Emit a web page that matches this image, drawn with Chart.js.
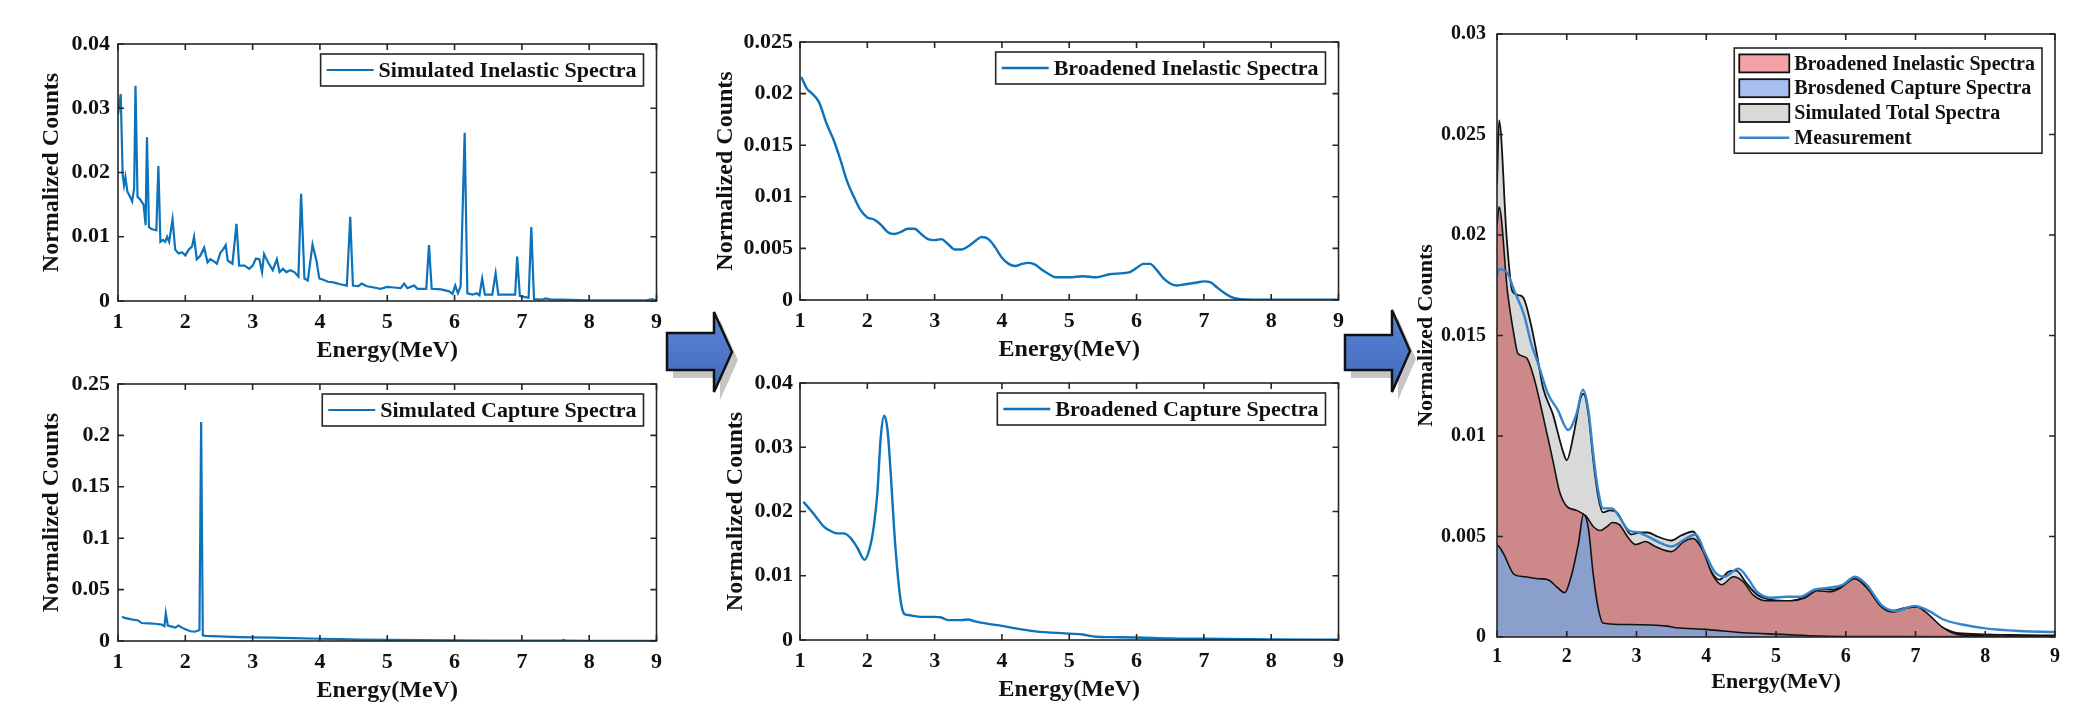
<!DOCTYPE html>
<html>
<head>
<meta charset="utf-8">
<script src="https://cdn.jsdelivr.net/npm/chart.js@4.4.1/dist/chart.umd.min.js"></script>
<style>
  html, body { margin: 0; padding: 0; background: #fff; }
  body { width: 2093px; height: 708px; position: relative; overflow: hidden; }
  canvas { position: absolute; }
  #arrows { position: absolute; left: 0; top: 0; pointer-events: none; }
</style>
</head>
<body>
<svg id="arrows" width="2093" height="708">
  <defs>
    <linearGradient id="arrowFill" x1="0" y1="0" x2="0" y2="1">
      <stop offset="0" stop-color="#5b87d8"/>
      <stop offset="1" stop-color="#3f68ba"/>
    </linearGradient>
  </defs>
  <polygon points="673,341 720,341 720,320 738,360 720,400 720,378 673,378" fill="#c6c6c6"/>
  <polygon points="667,333 714,333 714,312 732,352 714,392 714,370 667,370" fill="url(#arrowFill)" stroke="#111" stroke-width="2.5"/>
  <polygon points="1351,343 1398,343 1398,318 1416,359 1398,400 1398,378 1351,378" fill="#c6c6c6"/>
  <polygon points="1345,335 1392,335 1392,310 1410,351 1392,392 1392,370 1345,370" fill="url(#arrowFill)" stroke="#111" stroke-width="2.5"/>
</svg>
<script>
// energy axis, shared by every panel
const energyTicks = [1, 2, 3, 4, 5, 6, 7, 8, 9];

// simulated inelastic spectrum (top left)
const inelE = [1.00, 1.04, 1.07, 1.09, 1.11, 1.14, 1.18, 1.21, 1.24, 1.26, 1.29, 1.33, 1.38, 1.41, 1.43, 1.46, 1.50, 1.57, 1.60, 1.63,
  1.67, 1.70, 1.73, 1.76, 1.81, 1.85, 1.90, 1.95, 2.00, 2.05, 2.10, 2.13, 2.17, 2.22, 2.28, 2.33, 2.37, 2.42, 2.47, 2.52,
  2.56, 2.60, 2.63, 2.70, 2.76, 2.80, 2.88, 2.95, 3.00, 3.05, 3.10, 3.14, 3.17, 3.23, 3.30, 3.36, 3.40, 3.45, 3.50, 3.56,
  3.62, 3.68, 3.72, 3.77, 3.82, 3.89, 3.95, 3.99, 4.05, 4.12, 4.20, 4.30, 4.40, 4.45, 4.49, 4.57, 4.62, 4.70, 4.80, 4.90,
  5.00, 5.10, 5.20, 5.25, 5.30, 5.40, 5.45, 5.58, 5.62, 5.66, 5.80, 5.92, 5.97, 6.01, 6.05, 6.09, 6.15, 6.19, 6.27, 6.33,
  6.37, 6.41, 6.45, 6.56, 6.61, 6.65, 6.80, 6.90, 6.93, 6.97, 7.05, 7.10, 7.14, 7.18, 7.30, 7.35, 7.45, 7.60, 8.00, 8.50,
  8.85, 8.93, 9.00];
const inelCounts = [0.0290, 0.0322, 0.0195, 0.0180, 0.0193, 0.0170, 0.0162, 0.0155, 0.0175, 0.0335, 0.0162, 0.0158, 0.0150, 0.0118, 0.0255, 0.0115, 0.0112, 0.0110, 0.0210, 0.0092,
  0.0095, 0.0092, 0.0100, 0.0092, 0.0127, 0.0080, 0.0074, 0.0076, 0.0071, 0.0080, 0.0085, 0.0100, 0.0065, 0.0070, 0.0083, 0.0060, 0.0065, 0.0062, 0.0058, 0.0075,
  0.0080, 0.0087, 0.0063, 0.0058, 0.0120, 0.0055, 0.0055, 0.0050, 0.0055, 0.0066, 0.0065, 0.0045, 0.0073, 0.0060, 0.0048, 0.0065, 0.0045, 0.0050, 0.0045, 0.0048,
  0.0045, 0.0038, 0.0167, 0.0035, 0.0032, 0.0088, 0.0062, 0.0035, 0.0033, 0.0030, 0.0029, 0.0026, 0.0024, 0.0131, 0.0024, 0.0023, 0.0027, 0.0023, 0.0021, 0.0019,
  0.0022, 0.0021, 0.0020, 0.0027, 0.0020, 0.0024, 0.0019, 0.0019, 0.0087, 0.0019, 0.0018, 0.0015, 0.0011, 0.0024, 0.0012, 0.0023, 0.0262, 0.0012, 0.0010, 0.0012,
  0.0009, 0.0035, 0.0010, 0.0010, 0.0043, 0.0010, 0.0010, 0.0010, 0.0069, 0.0008, 0.0006, 0.0005, 0.0115, 0.0003, 0.0002, 0.0004, 0.0002, 0.0002, 0.0001, 0.0001,
  0.0001, 0.0003, 0.0001];
const inelTicks = [0, 0.01, 0.02, 0.03, 0.04];

// simulated capture spectrum (bottom left)
const capE = [1.06, 1.10, 1.20, 1.30, 1.35, 1.45, 1.55, 1.65, 1.69, 1.71, 1.74, 1.80, 1.85, 1.90, 1.95, 2.00, 2.08, 2.14, 2.18, 2.21,
  2.235, 2.26, 2.30, 2.50, 2.80, 3.00, 3.30, 3.60, 4.00, 4.30, 4.60, 5.00, 5.50, 6.00, 6.50, 7.00, 7.58, 7.62, 7.66, 8.00, 9.00];
const capCounts = [0.0235, 0.0225, 0.0210, 0.0200, 0.0175, 0.0172, 0.0168, 0.0160, 0.0145, 0.0270, 0.0150, 0.0140, 0.0130, 0.0150, 0.0130, 0.0115, 0.0095, 0.0090, 0.0100, 0.0105,
  0.2130, 0.0055, 0.0050, 0.0045, 0.0038, 0.0035, 0.0032, 0.0028, 0.0022, 0.0018, 0.0013, 0.0010, 0.0008, 0.0006, 0.0005, 0.0004, 0.0003, 0.0010, 0.0003, 0.0002, 0.0002];
const capTicks = [0, 0.05, 0.1, 0.15, 0.2, 0.25];

// broadened inelastic spectrum (top middle)
const bInelE = [1.02, 1.10, 1.18, 1.28, 1.40, 1.50, 1.60, 1.70, 1.80, 1.90, 2.00, 2.10, 2.20, 2.30, 2.40, 2.50, 2.60, 2.70, 2.80, 2.90,
  3.00, 3.10, 3.20, 3.30, 3.40, 3.50, 3.60, 3.70, 3.80, 3.90, 4.00, 4.10, 4.20, 4.30, 4.40, 4.50, 4.60, 4.70, 4.80, 5.00,
  5.20, 5.40, 5.60, 5.80, 5.90, 6.00, 6.10, 6.20, 6.30, 6.40, 6.50, 6.60, 6.70, 6.80, 6.90, 7.00, 7.10, 7.20, 7.30, 7.40,
  7.50, 7.60, 8.00, 9.00];
const bInelCounts = [0.0216, 0.0205, 0.0200, 0.0192, 0.0170, 0.0155, 0.0136, 0.0115, 0.0100, 0.0087, 0.0080, 0.0078, 0.0073, 0.0066, 0.0064, 0.0066, 0.0069, 0.0069, 0.0064, 0.0059,
  0.0058, 0.0059, 0.0054, 0.0049, 0.0049, 0.0052, 0.0057, 0.0061, 0.0059, 0.0051, 0.0041, 0.0035, 0.0033, 0.0035, 0.0036, 0.0034, 0.0029, 0.0025, 0.0022, 0.0022,
  0.0023, 0.0022, 0.0025, 0.0026, 0.0027, 0.0031, 0.0035, 0.0035, 0.0029, 0.0021, 0.0016, 0.0014, 0.0015, 0.0016, 0.0017, 0.0018, 0.0017, 0.0012, 0.0007, 0.0003,
  0.00012, 0.00006, 0.00003, 0.00002];
const bInelTicks = [0, 0.005, 0.01, 0.015, 0.02, 0.025];

// broadened capture spectrum (bottom middle)
const bCapE = [1.05, 1.15, 1.25, 1.35, 1.45, 1.55, 1.65, 1.75, 1.85, 1.96, 2.05, 2.10, 2.15, 2.20, 2.25, 2.30, 2.35, 2.40, 2.45, 2.50,
  2.55, 2.60, 2.80, 3.00, 3.10, 3.20, 3.40, 3.50, 3.60, 3.80, 4.00, 4.20, 4.50, 5.00, 5.20, 5.40, 5.60, 6.00, 6.50, 7.00,
  8.00, 9.00];
const bCapCounts = [0.0215, 0.0203, 0.0190, 0.0177, 0.0170, 0.0166, 0.0166, 0.0159, 0.0144, 0.0125, 0.0149, 0.0180, 0.0230, 0.0316, 0.0349, 0.0327, 0.0256, 0.0170, 0.0104, 0.0058,
  0.00405, 0.0039, 0.0036, 0.0036, 0.0035, 0.0031, 0.0031, 0.0032, 0.0029, 0.0025, 0.0022, 0.0018, 0.00135, 0.0010, 0.00085, 0.0005, 0.00045, 0.0004, 0.00025, 0.0002,
  0.0001, 0.00005];
const bCapTicks = [0, 0.01, 0.02, 0.03, 0.04];

// comparison with the measurement (right)
const totalE = [1.00, 1.03, 1.14, 1.22, 1.32, 1.39, 1.49, 1.56, 1.66, 1.80, 1.94, 2.00, 2.10, 2.20, 2.24, 2.31, 2.38, 2.45, 2.52, 2.62,
  2.72, 2.82, 2.92, 3.06, 3.16, 3.30, 3.50, 3.64, 3.81, 3.91, 4.05, 4.19, 4.32, 4.43, 4.56, 4.73, 4.94, 5.21, 5.38, 5.55,
  5.69, 5.83, 5.96, 6.13, 6.24, 6.44, 6.65, 6.85, 6.99, 7.12, 7.33, 7.53, 7.81, 8.35, 9.00];
const totalCounts = [0.0225, 0.0257, 0.0198, 0.0172, 0.0170, 0.0168, 0.0155, 0.0143, 0.0124, 0.0111, 0.0093, 0.0088, 0.0101, 0.0119, 0.0121, 0.0111, 0.0088, 0.0070, 0.0062, 0.0063,
  0.0062, 0.0056, 0.0051, 0.0052, 0.0052, 0.0050, 0.0048, 0.00505, 0.00525, 0.0047, 0.0034, 0.00285, 0.00325, 0.0033, 0.00275, 0.0021, 0.00185, 0.0018, 0.00195, 0.0023,
  0.0024, 0.00235, 0.0026, 0.0029, 0.0027, 0.0018, 0.0013, 0.00145, 0.0015, 0.0013, 0.0006, 0.00025, 0.00015, 0.0001, 0.00008];

const fitInelE = [1.00, 1.03, 1.15, 1.25, 1.30, 1.42, 1.53, 1.66, 1.80, 1.90, 2.00, 2.14, 2.28, 2.38, 2.48, 2.58, 2.65, 2.75, 2.89, 2.99,
  3.13, 3.27, 3.50, 3.68, 3.81, 3.95, 4.09, 4.22, 4.39, 4.53, 4.67, 4.87, 5.21, 5.42, 5.59, 5.79, 5.93, 6.13, 6.30, 6.51,
  6.68, 6.88, 7.02, 7.16, 7.40, 7.60, 8.00, 9.00];
const fitInelCounts = [0.0205, 0.0214, 0.0172, 0.0149, 0.0141, 0.0139, 0.0129, 0.0110, 0.0088, 0.0072, 0.0065, 0.0063, 0.0060, 0.0055, 0.0053, 0.0055, 0.0057, 0.0056, 0.0049, 0.0046,
  0.00475, 0.0045, 0.00425, 0.00475, 0.0049, 0.0043, 0.0031, 0.0026, 0.0030, 0.00275, 0.0021, 0.0018, 0.0018, 0.00195, 0.0023, 0.00225, 0.00245, 0.0029, 0.00245, 0.0015,
  0.00125, 0.00145, 0.0015, 0.0012, 0.00045, 0.00013, 0.00005, 0.00002];

const fitCapE = [1.00, 1.05, 1.10, 1.25, 1.39, 1.60, 1.73, 1.87, 1.97, 2.07, 2.17, 2.24, 2.31, 2.38, 2.45, 2.52, 2.89, 3.44, 3.57, 3.98,
  4.53, 5.08, 5.62, 6.50, 9.00];
const fitCapCounts = [0.0046, 0.0044, 0.0041, 0.0031, 0.0030, 0.0029, 0.00285, 0.00245, 0.0022, 0.0031, 0.0047, 0.0061, 0.0054, 0.0031, 0.00145, 0.0007, 0.00062, 0.00054, 0.00046, 0.00038,
  0.00021, 0.00013, 0.00005, 0.00002, 0.00001];

const measE = [1.00, 1.03, 1.15, 1.25, 1.39, 1.49, 1.59, 1.73, 1.87, 2.02, 2.14, 2.23, 2.31, 2.38, 2.45, 2.52, 2.65, 2.75, 2.89, 3.03,
  3.16, 3.33, 3.50, 3.71, 3.85, 3.98, 4.12, 4.26, 4.46, 4.60, 4.73, 4.94, 5.14, 5.35, 5.55, 5.76, 5.96, 6.13, 6.30, 6.51,
  6.71, 6.99, 7.19, 7.40, 7.67, 8.00, 8.49, 9.00];
const measCounts = [0.0180, 0.0183, 0.0181, 0.0172, 0.0160, 0.0146, 0.0136, 0.0121, 0.0113, 0.0103, 0.0111, 0.0123, 0.0113, 0.0091, 0.0073, 0.0064, 0.0064, 0.0060, 0.0053, 0.0052,
  0.0050, 0.0047, 0.0045, 0.0049, 0.0051, 0.0042, 0.00325, 0.0030, 0.0034, 0.0029, 0.00225, 0.00195, 0.0020, 0.0020, 0.00235, 0.00245, 0.0026, 0.0030, 0.0026, 0.0016,
  0.0013, 0.00155, 0.0013, 0.00087, 0.00062, 0.00043, 0.0003, 0.00025];
const fitTicks = [0, 0.005, 0.01, 0.015, 0.02, 0.025, 0.03];

const FONT = '"Liberation Serif", "Times New Roman", serif';
const INK = '#262626';
const MATLAB_BLUE = '#0b72bb';

Chart.defaults.font.family = FONT;
Chart.defaults.color = '#111';

const points = (xs, ys) => xs.map((x, i) => ({x: x, y: ys[i]}));

// MATLAB style frame: box on all four sides, ticks pointing inwards
const matlabBox = {
	id: 'matlabBox',
	afterDatasetsDraw(chart) {
		const {ctx, chartArea: a, scales: {x, y}} = chart;
		const len = 6;
		ctx.save();
		ctx.strokeStyle = INK;
		ctx.lineWidth = 1.6;
		ctx.beginPath();
		x.ticks.forEach((t) => {
			const px = x.getPixelForValue(t.value);
			ctx.moveTo(px, a.bottom); ctx.lineTo(px, a.bottom - len);
			ctx.moveTo(px, a.top); ctx.lineTo(px, a.top + len);
		});
		y.ticks.forEach((t) => {
			const py = y.getPixelForValue(t.value);
			ctx.moveTo(a.left, py); ctx.lineTo(a.left + len, py);
			ctx.moveTo(a.right, py); ctx.lineTo(a.right - len, py);
		});
		ctx.stroke();
		ctx.strokeRect(a.left, a.top, a.width, a.height);
		ctx.restore();
	}
};

// legend in a framed box in the upper right corner of the axes
const boxLegend = {
	id: 'boxLegend',
	afterDraw(chart, args, o) {
		const {ctx, chartArea: a} = chart;
		const sets = chart.data.datasets;
		ctx.save();
		ctx.font = 'bold ' + o.size + 'px ' + FONT;
		const textW = Math.max(...sets.map((d) => ctx.measureText(d.label).width));
		const w = o.padL + o.sample + o.gap + textW + o.padR;
		const h = 2 * o.padV + o.row * sets.length;
		const left = a.right - o.right - w;
		const top = a.top + o.top;
		ctx.fillStyle = '#fff';
		ctx.fillRect(left, top, w, h);
		sets.forEach((d, i) => {
			const cy = top + o.padV + o.row * (i + 0.5);
			const sx = left + o.padL;
			if (d.fill) {
				ctx.fillStyle = d.legendColor || d.backgroundColor;
				ctx.fillRect(sx, cy - o.patchH / 2, o.sample, o.patchH);
				ctx.strokeStyle = '#111';
				ctx.lineWidth = 1.8;
				ctx.strokeRect(sx, cy - o.patchH / 2, o.sample, o.patchH);
			} else {
				ctx.strokeStyle = d.borderColor;
				ctx.lineWidth = d.borderWidth;
				ctx.beginPath();
				ctx.moveTo(sx, cy);
				ctx.lineTo(sx + o.sample, cy);
				ctx.stroke();
			}
			ctx.fillStyle = '#111';
			ctx.textAlign = 'left';
			ctx.textBaseline = 'middle';
			ctx.fillText(d.label, sx + o.sample + o.gap, cy + 1);
		});
		ctx.strokeStyle = INK;
		ctx.lineWidth = 1.6;
		ctx.strokeRect(left, top, w, h);
		ctx.restore();
	}
};

function lineSet(label, xs, ys, extra) {
	return Object.assign({
		label: label,
		data: points(xs, ys),
		borderColor: MATLAB_BLUE,
		borderWidth: 2.4,
		pointRadius: 0,
		tension: 0,
		fill: false
	}, extra || {});
}

// p.box = [left, top, right, bottom] of the plotting area on the page
function buildPanel(p) {
	const T = 12;
	const R = 12;
	const L = p.yTitleGap + p.titleSize / 2 + 2;
	const B = p.xTitleGap + p.titleSize / 2;
	const canvas = document.createElement('canvas');
	canvas.width = (p.box[2] - p.box[0]) + L + R;
	canvas.height = (p.box[3] - p.box[1]) + T + B;
	canvas.style.left = (p.box[0] - L) + 'px';
	canvas.style.top = (p.box[1] - T) + 'px';
	document.body.insertBefore(canvas, document.getElementById('arrows'));

	const tickFont = {family: FONT, size: p.tickSize, weight: 'bold', lineHeight: 1};
	const titleFont = {family: FONT, size: p.titleSize, weight: 'bold', lineHeight: 1};

	return new Chart(canvas, {
		type: 'line',
		data: {datasets: p.datasets},
		options: {
			responsive: false,
			animation: false,
			events: [],
			layout: {padding: {top: T, right: R, left: 0, bottom: 0}},
			plugins: {
				legend: {display: false},
				tooltip: {enabled: false},
				boxLegend: p.legend
			},
			scales: {
				x: {
					type: 'linear',
					min: 1,
					max: 9,
					afterBuildTicks: (s) => { s.ticks = energyTicks.map((v) => ({value: v})); },
					afterFit: (s) => { s.height = B; },
					grid: {display: false, drawTicks: false},
					border: {display: false},
					ticks: {
						autoSkip: false,
						maxRotation: 0,
						padding: p.xTickGap - p.tickSize / 2,
						color: '#111',
						font: tickFont,
						callback: (v) => String(v)
					},
					title: {display: true, text: 'Energy(MeV)', color: '#111', font: titleFont, padding: 0}
				},
				y: {
					min: 0,
					max: p.yTicks[p.yTicks.length - 1],
					afterBuildTicks: (s) => { s.ticks = p.yTicks.map((v) => ({value: v})); },
					afterFit: (s) => { s.width = L; },
					grid: {display: false, drawTicks: false},
					border: {display: false},
					ticks: {
						autoSkip: false,
						padding: p.yTickGap,
						color: '#111',
						font: tickFont,
						callback: (v) => String(v)
					},
					title: {
						display: true,
						text: 'Normalized Counts',
						color: '#111',
						font: titleFont,
						padding: {top: L - p.yTitleGap - p.titleSize / 2, bottom: 0}
					}
				}
			}
		},
		plugins: [matlabBox, boxLegend]
	});
}

const smallLegend = {size: 22, right: 13, top: 10, padL: 6, sample: 47, gap: 5, padR: 7, padV: 3, row: 26, patchH: 17};

buildPanel({
	box: [118, 37, 660, 301], yTicks: inelTicks, yTitleGap: 66, yTickGap: 8, xTickGap: 21, xTitleGap: 50,
	tickSize: 22, titleSize: 24, legend: smallLegend,
	datasets: [lineSet('Simulated Inelastic Spectra', inelE, inelCounts, {borderWidth: 2.2})]
});

buildPanel({
	box: [118, 377, 660, 641], yTicks: capTicks, yTitleGap: 66, yTickGap: 8, xTickGap: 21, xTitleGap: 50,
	tickSize: 22, titleSize: 24, legend: smallLegend,
	datasets: [lineSet('Simulated Capture Spectra', capE, capCounts, {borderWidth: 2.2})]
});

buildPanel({
	box: [800, 36, 1342, 300], yTicks: bInelTicks, yTitleGap: 74, yTickGap: 7, xTickGap: 21, xTitleGap: 50,
	tickSize: 22, titleSize: 24, legend: smallLegend,
	datasets: [lineSet('Broadened Inelastic Spectra', bInelE, bInelCounts, {cubicInterpolationMode: 'monotone'})]
});

buildPanel({
	box: [800, 377, 1342, 640], yTicks: bCapTicks, yTitleGap: 64, yTickGap: 7, xTickGap: 21, xTitleGap: 50,
	tickSize: 22, titleSize: 24, legend: smallLegend,
	datasets: [lineSet('Broadened Capture Spectra', bCapE, bCapCounts, {cubicInterpolationMode: 'monotone'})]
});

// legend order: red, blue, grey, line; drawing order: grey, red, blue, line
buildPanel({
	box: [1497, 25, 2058, 637], yTicks: fitTicks, yTitleGap: 71, yTickGap: 11, xTickGap: 20, xTitleGap: 45,
	tickSize: 20, titleSize: 22,
	legend: {size: 20, right: 13, top: 14, padL: 5, sample: 50, gap: 5, padR: 7, padV: 3, row: 24.8, patchH: 18},
	datasets: [
		lineSet('Broadened Inelastic Spectra', fitInelE, fitInelCounts, {
			fill: 'origin', backgroundColor: '#cd8889', legendColor: '#f3a3a6',
			borderColor: '#111', borderWidth: 1.6, cubicInterpolationMode: 'monotone', order: 2
		}),
		lineSet('Brosdened Capture Spectra', fitCapE, fitCapCounts, {
			fill: 'origin', backgroundColor: '#8b9fcc', legendColor: '#a7bff0',
			borderColor: '#111', borderWidth: 1.6, cubicInterpolationMode: 'monotone', order: 1
		}),
		lineSet('Simulated Total Spectra', totalE, totalCounts, {
			fill: 'origin', backgroundColor: '#d9d9d9', legendColor: '#d9d9d9',
			borderColor: '#111', borderWidth: 1.8, cubicInterpolationMode: 'monotone', order: 3
		}),
		lineSet('Measurement', measE, measCounts, {
			borderColor: '#3584cc', borderWidth: 2.4, cubicInterpolationMode: 'monotone', order: 0
		})
	]
});
</script>
</body>
</html>
